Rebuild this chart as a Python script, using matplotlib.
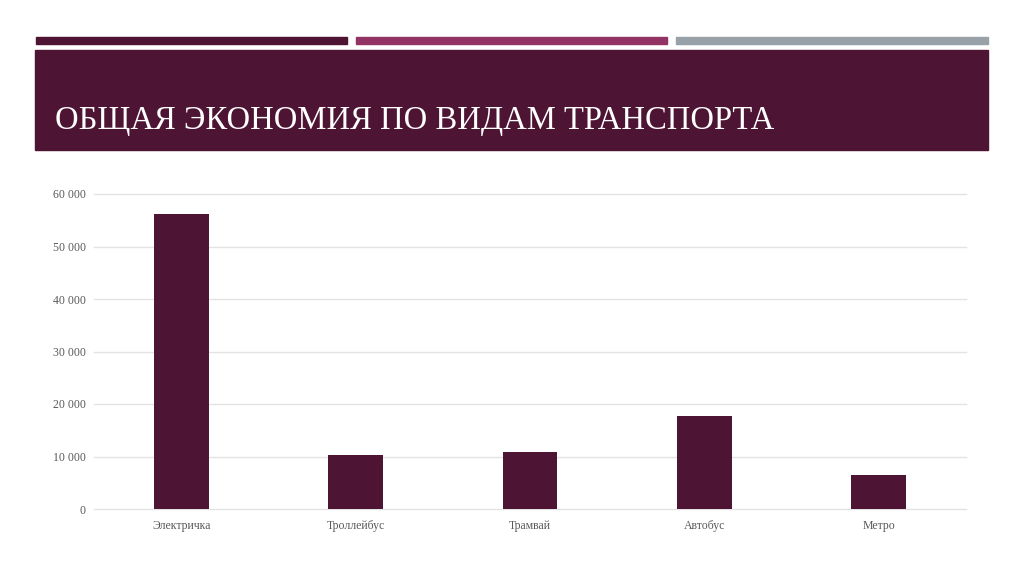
import numpy as np
import matplotlib.pyplot as plt
from matplotlib.patches import Rectangle

categories = ['Электричка', 'Троллейбус', 'Трамвай', 'Автобус', 'Метро']
values = [56100, 10300, 10800, 17650, 6450]
yticks = [0, 10000, 20000, 30000, 40000, 50000, 60000]
ytick_labels = ['0', '10 000', '20 000', '30 000', '40 000', '50 000', '60 000']
title = 'ОБЩАЯ ЭКОНОМИЯ ПО ВИДАМ ТРАНСПОРТА'

W, H = 1024, 574
fig = plt.figure(figsize=(W / 100, H / 100), dpi=100)
fig.patch.set_facecolor('white')

# decorative stripes and title band (pixel coords -> figure fraction)
def box(x0, y0, x1, y1, color):
    fig.patches.append(Rectangle((x0 / W, 1 - y1 / H), (x1 - x0) / W, (y1 - y0) / H,
                                 transform=fig.transFigure, color=color, zorder=0))

box(36, 37, 347, 44, '#4e1433')
box(356, 37, 667, 44, '#933364')
box(676, 37, 988, 44, '#98a0a8')
box(35, 50, 988, 150, '#4e1433')
fig.text(55 / W, 1 - 121 / H, title, color='white', fontsize=23.5,
         family='Liberation Serif', va='center', ha='left')

ax = fig.add_axes([94 / W, 1 - 509 / H, (966 - 94) / W, (509 - 194) / H])
x = np.arange(len(categories))
ax.bar(x, values, width=0.315, color='#4e1433', zorder=3)
ax.set_xlim(-0.5, len(categories) - 0.5)
ax.set_ylim(0, 60000)
ax.set_yticks(yticks)
ax.set_yticklabels(ytick_labels)
ax.set_xticks(x)
ax.set_xticklabels(categories)
ax.grid(axis='y', color='#e3e3e3', linewidth=1, zorder=0)
for gl in ax.get_ygridlines():
    gl.set_clip_on(False)
for s in ax.spines.values():
    s.set_visible(False)
ax.tick_params(length=0, colors='#595959', labelsize=8.5)
ax.tick_params(axis='y', pad=6)
ax.tick_params(axis='x', pad=8)
for lbl in ax.get_xticklabels() + ax.get_yticklabels():
    lbl.set_family('Liberation Serif')

fig.savefig('out.png', dpi=100)
